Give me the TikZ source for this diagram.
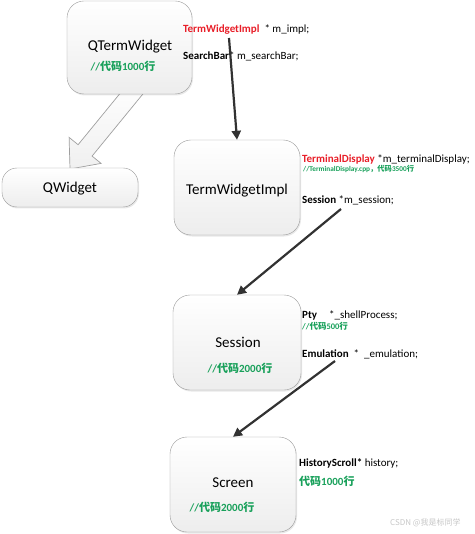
\documentclass[tikz,border=0pt]{standalone}
\usepackage{fontspec}
\setmainfont{Carlito}
\newfontfamily\cjk{Noto Sans CJK SC}
\usetikzlibrary{arrows.meta,shadows}
\definecolor{codegreen}{RGB}{24,160,90}
\definecolor{typered}{RGB}{232,30,40}
\definecolor{arrowgray}{RGB}{50,50,50}
\newcommand\zh[1]{{\cjk\bfseries #1}}
\begin{document}
\begin{tikzpicture}[x=1pt,y=-1pt,
  box/.style={draw=gray!80, rounded corners=17pt, top color=white, bottom color=gray!14,
    drop shadow={opacity=0.18,shadow xshift=1pt,shadow yshift=-1.5pt}, inner sep=0pt},
  title/.style={font=\fontsize{15}{18}\selectfont, inner sep=0pt},
  gtext/.style={text=codegreen, font=\fontsize{11}{13}\bfseries\selectfont, inner sep=0pt},
  lbl/.style={anchor=west, inner sep=0pt, font=\fontsize{11}{13}\selectfont},
  conn/.style={draw=arrowgray, line width=2.2pt, -{Triangle[length=9pt,width=9pt]}},
  hollow/.style={draw=gray!75, line width=0.7pt, top color=white, bottom color=gray!12, line join=miter}
]
\useasboundingbox (0,0) rectangle (474,534);

% hollow inheritance arrow (drawn before the box so the box covers its end)
\draw[hollow] (130.6,80.5) -- (78.1,144.7) -- (69.1,137.4) -- (70,169) -- (101.1,163.4) -- (92.1,156.1) -- (144.6,91.9) -- cycle;

% boxes
\node[box, minimum width=125pt, minimum height=93pt] (qtw) at (129.5,47.5) {};
\node[title] (qtwT) at (130,47) {QTermWidget};
\node[gtext] (qtwC) at (123,66) {//\zh{代码}1000\zh{行}};

\node[box, rounded corners=15pt, minimum width=136pt, minimum height=39pt] (qw) at (70,187.5) {};
\node[title] (qwT) at (70,189) {QWidget};

\node[box, minimum width=126pt, minimum height=95pt] (twi) at (237,187.5) {};
\node[title] (twiT) at (237,191) {TermWidgetImpl};

\node[box, minimum width=128pt, minimum height=95pt] (ses) at (237,342.5) {};
\node[title] (sesT) at (238,342) {Session};
\node[gtext] (sesC) at (240,368) {//\zh{代码}2000\zh{行}};

\node[box, minimum width=126pt, minimum height=95pt] (scr) at (233,484.5) {};
\node[title] (scrT) at (233,483) {Screen};
\node[gtext] (scrC) at (222,507) {//\zh{代码}2000\zh{行}};

% member labels
\node[lbl] (l1) at (183,30) {\textcolor{typered}{\textbf{TermWidgetImpl}}\hspace{5pt}* m\_impl;};
\node[lbl] (l2) at (183,56) {\textbf{SearchBar}* m\_searchBar;};

\node[lbl] (l3) at (302,159) {\textcolor{typered}{\textbf{TerminalDisplay}} *m\_terminalDisplay;};
\node[lbl, text=codegreen, font=\fontsize{7.3}{9}\bfseries\selectfont] (l4) at (303,169) {//TerminalDisplay.cpp\zh{，代码}3500\zh{行}};
\node[lbl] (l5) at (302,200) {\textbf{Session} *m\_session;};

\node[lbl] (l6) at (302,315) {\textbf{Pty}\hspace{12pt}*\_shellProcess;};
\node[lbl, text=codegreen, font=\fontsize{8.5}{10}\bfseries\selectfont] (l7) at (302,326) {//\zh{代码}500\zh{行}};
\node[lbl] (l8) at (302,354) {\textbf{Emulation}\hspace{5pt}*\hspace{5pt}\_emulation;};

\node[lbl] (l9) at (299,463) {\textbf{HistoryScroll*} history;};
\node[lbl, text=codegreen, font=\fontsize{11}{13}\bfseries\selectfont] (l10) at (299,481) {\zh{代码}1000\zh{行}};

\node[lbl, text=gray!45, font=\fontsize{8}{10}\selectfont] (wm) at (390,523) {\cjk CSDN @我是标同学};

% ownership connectors
\coordinate (s1) at (229,38);
\coordinate (s2) at (341,209);
\coordinate (s3) at (335,361);
\draw[conn] (s1) -- (twi.north);
\draw[conn] (s2) -- (ses.north);
\draw[conn] (s3) -- (scr.north);
\end{tikzpicture}
\end{document}
